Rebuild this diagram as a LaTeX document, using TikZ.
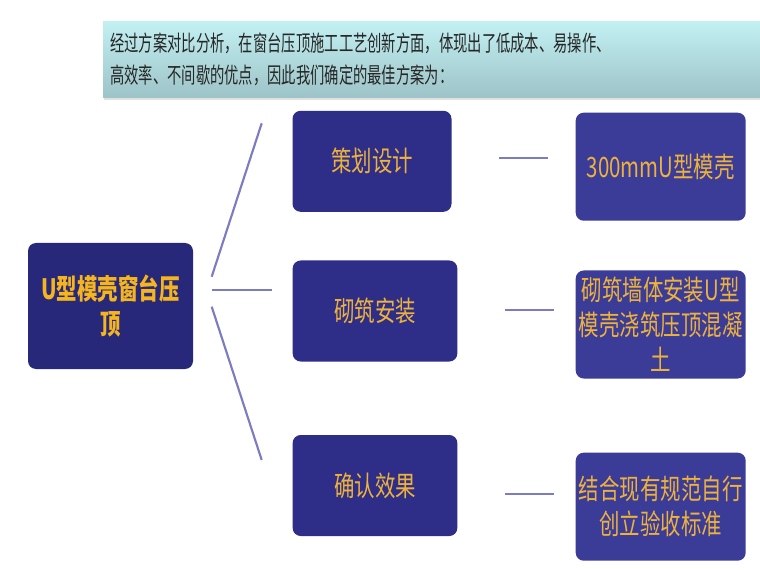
\documentclass[tikz,border=0pt]{standalone}
\usepackage{fontspec}
\newfontfamily\cjkT[FakeStretch=0.65]{Noto Sans CJK SC}
\newfontfamily\cjkM[FakeStretch=0.73]{Noto Sans CJK SC}
\definecolor{navyL}{HTML}{28287A}
\definecolor{navyM}{HTML}{2E2E88}
\definecolor{navyR}{HTML}{3B3B98}
\definecolor{goldL}{HTML}{F5B51E}
\definecolor{goldM}{HTML}{EDB23C}
\definecolor{lineC}{HTML}{7C7CC0}
\definecolor{bannerTop}{HTML}{C2F0F2}
\definecolor{bannerBot}{HTML}{9DC3C7}
\begin{document}
\begin{tikzpicture}[x=0.75pt,y=-0.75pt,
  box/.style={rounded corners=6pt, inner sep=0pt, align=center},
  leftbox/.style={box, fill=navyL, text=goldL, minimum width=123.75pt, minimum height=94.5pt,
    font=\cjkM\bfseries\fontsize{21}{26.25}\selectfont},
  midbox/.style={box, fill=navyM, text=goldM, minimum width=123.5pt, minimum height=75.75pt,
    font=\cjkM\fontsize{21}{26.25}\selectfont},
  rightbox/.style={box, fill=navyR, text=goldM, minimum width=127.5pt, minimum height=81pt,
    font=\cjkM\fontsize{21}{26.25}\selectfont},
  conn/.style={draw=lineC, line width=1.6pt}]
\fill[white] (0,0) rectangle (760,570);
\useasboundingbox (0,0) rectangle (760,570);
% banner
\fill[black!12] (104,24) rectangle (760,100.5);
\shade[top color=bannerTop, bottom color=bannerBot] (103,22) rectangle (760,98);
\node[anchor=west, align=left, inner sep=0pt, text=black!85,
  font=\cjkT\fontsize{16.5}{24}\selectfont] (intro) at (110,59)
  {经过方案对比分析，在窗台压顶施工工艺创新方面，体现出了低成本、易操作、\\高效率、不间歇的优点，因此我们确定的最佳方案为：};
% boxes
\node[leftbox] (root) at (110.5,306) {U型模壳窗台压\\顶};
\node[midbox, minimum width=119.25pt] (m1) at (372,161.3) {策划设计};
\node[midbox] (m2) at (375,311) {砌筑安装};
\node[midbox] (m3) at (375,485.5) {确认效果};
\node[rightbox] (r1) at (660.7,166.7) {300mmU型模壳};
\node[rightbox] (r2) at (660.7,324.5) {砌筑墙体安装U型\\模壳浇筑压顶混凝\\土};
\node[rightbox] (r3) at (660.7,506.7) {结合现有规范自行\\创立验收标准};
% fan connectors
\coordinate (fa) at (211.7,276.7);
\coordinate (fb) at (211.7,290);
\coordinate (fc) at (211.7,306.7);
\coordinate (ta) at (261.7,123.3);
\coordinate (tb) at (271.7,290);
\coordinate (tc) at (261.7,460);
\draw[conn] (fa) -- (ta);
\draw[conn] (fb) -- (tb);
\draw[conn] (fc) -- (tc);
% short connectors
\coordinate (s1a) at (499,158.3);
\coordinate (s1b) at (548.3,158.3);
\coordinate (s2a) at (505,310);
\coordinate (s2b) at (554.3,310);
\coordinate (s3a) at (505,494);
\coordinate (s3b) at (554.3,494);
\draw[conn] (s1a) -- (s1b);
\draw[conn] (s2a) -- (s2b);
\draw[conn] (s3a) -- (s3b);
\end{tikzpicture}
\end{document}
